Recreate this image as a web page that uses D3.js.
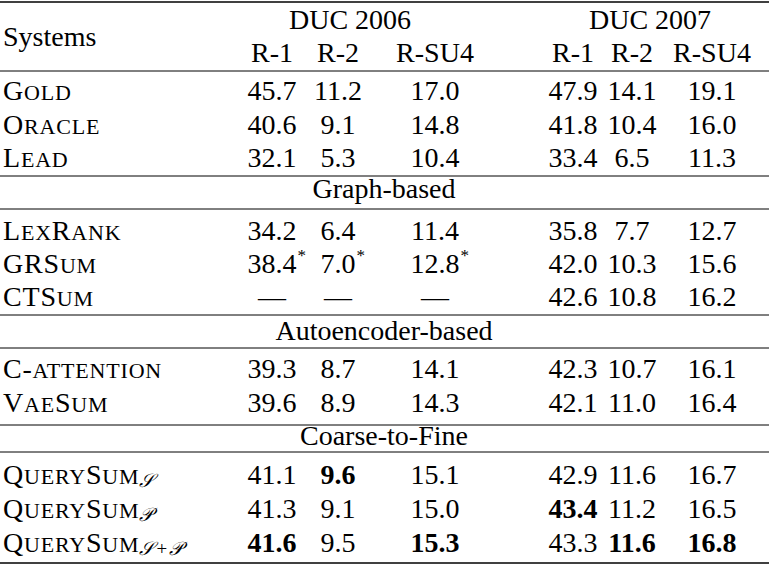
<!DOCTYPE html><html><head><meta charset="utf-8">
<script src="https://cdn.jsdelivr.net/npm/d3@7"></script>
<style>body{margin:0;background:#fff} text{font-family:"Liberation Serif","Times New Roman",Times,serif}</style></head><body><svg id="c" width="769" height="569"></svg>
<script>
const colX=[272,338,435,573,632,712];
const groups=[{name:"DUC 2006",x:350},{name:"DUC 2007",x:650}];
const metrics=["R-1","R-2","R-SU4","R-1","R-2","R-SU4"];
const rows=[
 {type:"row",name:"Gold",v:["45.7","11.2","17.0","47.9","14.1","19.1"],y:100},
 {type:"row",name:"Oracle",v:["40.6","9.1","14.8","41.8","10.4","16.0"],y:134},
 {type:"row",name:"Lead",v:["32.1","5.3","10.4","33.4","6.5","11.3"],y:167},
 {type:"sec",name:"Graph-based",y:198},
 {type:"row",name:"LexRank",v:["34.2","6.4","11.4","35.8","7.7","12.7"],y:240},
 {type:"row",name:"GRSum",v:["38.4","7.0","12.8","42.0","10.3","15.6"],star:[1,1,1,0,0,0],y:273},
 {type:"row",name:"CTSum",v:["—","—","—","42.6","10.8","16.2"],y:306},
 {type:"sec",name:"Autoencoder-based",y:340},
 {type:"row",name:"C-attention",v:["39.3","8.7","14.1","42.3","10.7","16.1"],y:378},
 {type:"row",name:"VaeSum",v:["39.6","8.9","14.3","42.1","11.0","16.4"],y:412},
 {type:"sec",name:"Coarse-to-Fine",y:445},
 {type:"row",name:"QuerySum",sub:"𝒮",v:["41.1","9.6","15.1","42.9","11.6","16.7"],bold:[0,1,0,0,0,0],y:484},
 {type:"row",name:"QuerySum",sub:"𝒫",v:["41.3","9.1","15.0","43.4","11.2","16.5"],bold:[0,0,0,1,0,0],y:518},
 {type:"row",name:"QuerySum",sub:"𝒮+𝒫",v:["41.6","9.5","15.3","43.3","11.6","16.8"],bold:[1,0,1,0,1,1],y:552}
];
const lines=[{y:2,w:1.6},{y:71,w:1},{y:176,w:1},{y:209,w:1},{y:315,w:1},{y:348,w:1},{y:425,w:1},{y:452,w:1},{y:563,w:1.6}];
const svg=d3.select("#c");
svg.selectAll("line.h").data(lines).join("line").attr("x1",0).attr("x2",769)
 .attr("y1",d=>d.y).attr("y2",d=>d.y).attr("stroke","#000").attr("stroke-width",d=>d.w);
const T=(x,y,t,anchor)=>svg.append("text").attr("x",x).attr("y",y).attr("font-size",28).attr("text-anchor",anchor||"middle").text(t);
T(3,46,"Systems","start");
groups.forEach(g=>T(g.x,29,g.name));
metrics.forEach((m,i)=>T(colX[i],62,m));
function smallcaps(sel,s){
  const parts=s.match(/[A-Z][a-z]*|-[a-z]*/g);
  parts.forEach(p=>{
    const first=p[0], rest=p.slice(1);
    sel.append("tspan").attr("font-size",28).text(first);
    if(rest) sel.append("tspan").attr("font-size",22).text(rest.toUpperCase());
  });
}
rows.forEach(r=>{
  if(r.type==="sec"){T(384,r.y,r.name);return;}
  const t=svg.append("text").attr("x",3).attr("y",r.y).attr("letter-spacing",0.8);
  smallcaps(t,r.name);
  if(r.sub) t.append("tspan").attr("font-size",19).attr("font-style","italic").attr("dy",3).text(r.sub);
  r.v.forEach((v,i)=>{
    const e=T(colX[i],r.y,v);
    if(r.bold&&r.bold[i]) e.attr("font-weight","bold");
    if(r.star&&r.star[i]){svg.append("text").attr("x",colX[i]+e.node().getComputedTextLength()/2+1).attr("y",r.y-12).attr("font-size",17).text("*");}
  });
});
</script></body></html>
